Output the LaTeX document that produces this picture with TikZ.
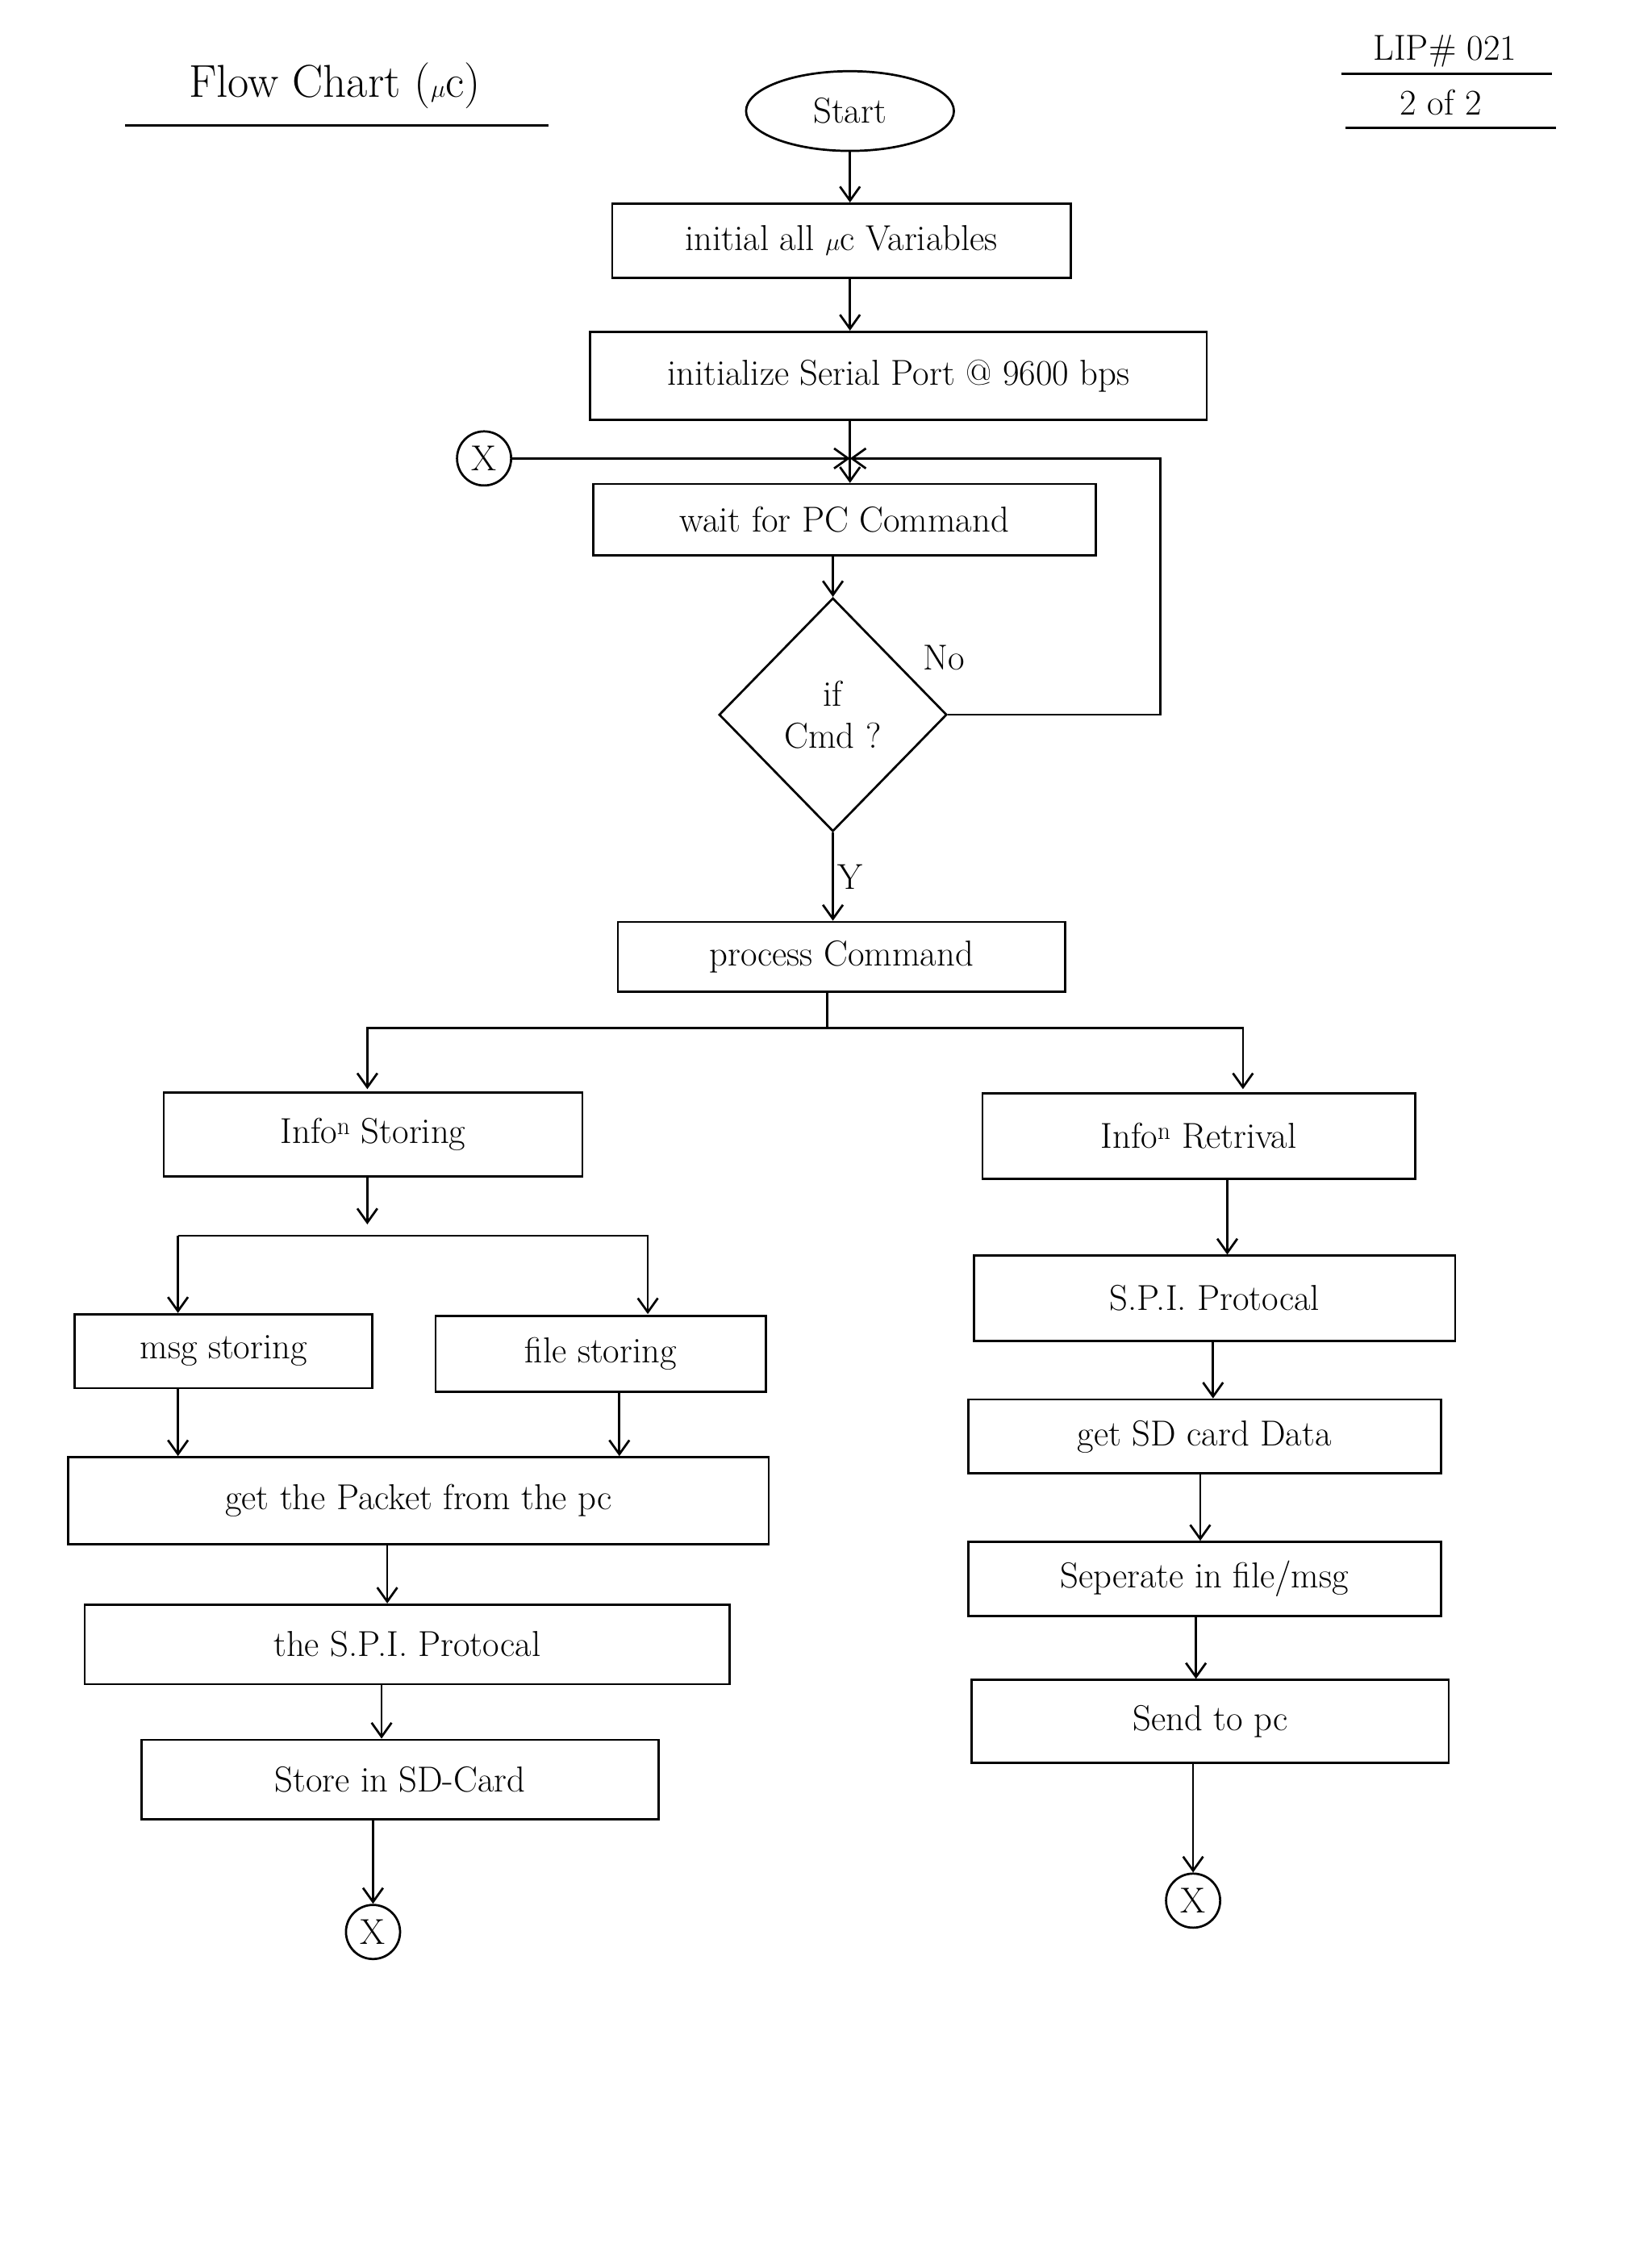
\documentclass[tikz,border=0pt]{standalone}
\usetikzlibrary{shapes.geometric,arrows.meta}
\begin{document}
\begin{tikzpicture}[x=0.05cm,y=-0.05cm,
  every node/.style={font=\fontsize{36}{42}\selectfont},
  ln/.style={line width=2.2pt},
  arr/.style={ln,-{Straight Barb[length=14pt,width=20pt]}},
  box/.style={draw,line width=2.2pt,rectangle,inner sep=0pt},
  conn/.style={draw,circle,line width=2.2pt,minimum size=1.9cm,inner sep=0pt}]
\useasboundingbox (0,0) rectangle (1160,1579);
\foreach \v in {125,435,272,268,862,852,843,840,597,258} {\coordinate (v\v) at (\v,0);}
% header
\node (title) at (235,60) {\fontsize{46}{52}\selectfont Flow Chart ($\mu$c)};
\draw[ln] (88,88) -- (385,88);
\node (lip) at (1015,36) {LIP\# 021};
\draw[ln] (942,52) -- (1090,52);
\node (pg) at (1012,72) {2 of 2};
\draw[ln] (945,90) -- (1093,90);
% main
\node[draw,ellipse,line width=2.2pt,minimum width=7.3cm,minimum height=2.8cm] (start) at (597,78) {Start};
\node[box,minimum width=16.1cm,minimum height=2.6cm] (b1) at (591,169) {initial all $\mu$c Variables};
\node[box,minimum width=21.65cm,minimum height=3.1cm] (b2) at (631,264) {initialize Serial Port @ 9600 bps};
\coordinate (j) at (597,322);
\node[conn] (x1) at (340,322) {X};
\node[box,minimum width=17.65cm,minimum height=2.5cm] (b3) at (593,365) {wait for PC Command};
\node[draw,diamond,line width=2.2pt,minimum width=8cm,minimum height=8.2cm,inner sep=0pt,align=center] (d) at (585,502) {if\\Cmd ?};
\node (no) at (663,462) {No};
\node[box,minimum width=15.7cm,minimum height=2.45cm] (b4) at (591,672) {process Command};
\draw[arr] (start) -- (b1.north -| start);
\draw[arr] (b1.south -| v597) -- (b2.north -| v597);
\draw[ln] (b2.south -| j) -- (j);
\draw[arr] (x1) -- (j);
\draw[arr] (j) -- (b3.north -| j);
\draw[arr] (b3.south -| d.north) -- (d.north);
\draw[arr] (d.east) -- (815,502) -- (815,322) -- (j);
\draw[arr] (d.south) -- (b4.north -| d.south) node[midway,right] {Y};
% split
\node[box,minimum width=14.7cm,minimum height=2.95cm] (s1) at (262,797) {Info\textsuperscript{n} Storing};
\node[box,minimum width=15.2cm,minimum height=3cm] (r1) at (842,798) {Info\textsuperscript{n} Retrival};
\coordinate (sp) at (581,722);
\draw[ln] (b4.south -| sp) -- (sp);
\draw[arr] (sp) -- (258,722) -- (258,765);
\draw[arr] (sp) -- (873,722) -- (873,765);
% left branch
\node[box,minimum width=10.45cm,minimum height=2.6cm] (m1) at (157,949) {msg storing};
\node[box,minimum width=11.6cm,minimum height=2.65cm] (f1) at (422,951) {file storing};
\coordinate (sj) at (258,868);
\coordinate (sa) at (258,860);
\draw[arr] (s1.south -| v258) -- (sa);
\draw[arr] (125,868) -- (m1.north -| v125);
\draw[arr] (125,868) -- (455,868) -- (455,923);
\node[box,minimum width=24.6cm,minimum height=3.05cm] (g1) at (294,1054) {get the Packet from the pc};
\draw[arr] (m1.south -| v125) -- (g1.north -| v125);
\draw[arr] (f1.south -| v435) -- (g1.north -| v435);
\node[box,minimum width=22.65cm,minimum height=2.8cm] (p1) at (286,1155) {the S.P.I. Protocal};
\draw[arr] (g1.south -| v272) -- (p1.north -| v272);
\node[box,minimum width=18.15cm,minimum height=2.8cm] (st) at (281,1250) {Store in SD-Card};
\draw[arr] (p1.south -| v268) -- (st.north -| v268);
\node[conn] (x2) at (262,1357) {X};
\draw[arr] (st.south -| x2) -- (x2);
% right branch
\node[box,minimum width=16.9cm,minimum height=3cm] (r2) at (853,912) {S.P.I. Protocal};
\draw[arr] (r1.south -| v862) -- (r2.north -| v862);
\node[box,minimum width=16.6cm,minimum height=2.6cm] (r3) at (846,1009) {get SD card Data};
\draw[arr] (r2.south -| v852) -- (r3.north -| v852);
\node[box,minimum width=16.6cm,minimum height=2.6cm] (r4) at (846,1109) {Seperate in file/msg};
\draw[arr] (r3.south -| v843) -- (r4.north -| v843);
\node[box,minimum width=16.75cm,minimum height=2.9cm] (r5) at (850,1209) {Send to pc};
\draw[arr] (r4.south -| v840) -- (r5.north -| v840);
\node[conn] (x3) at (838,1335) {X};
\draw[arr] (r5.south -| x3) -- (x3);
\end{tikzpicture}
\end{document}
